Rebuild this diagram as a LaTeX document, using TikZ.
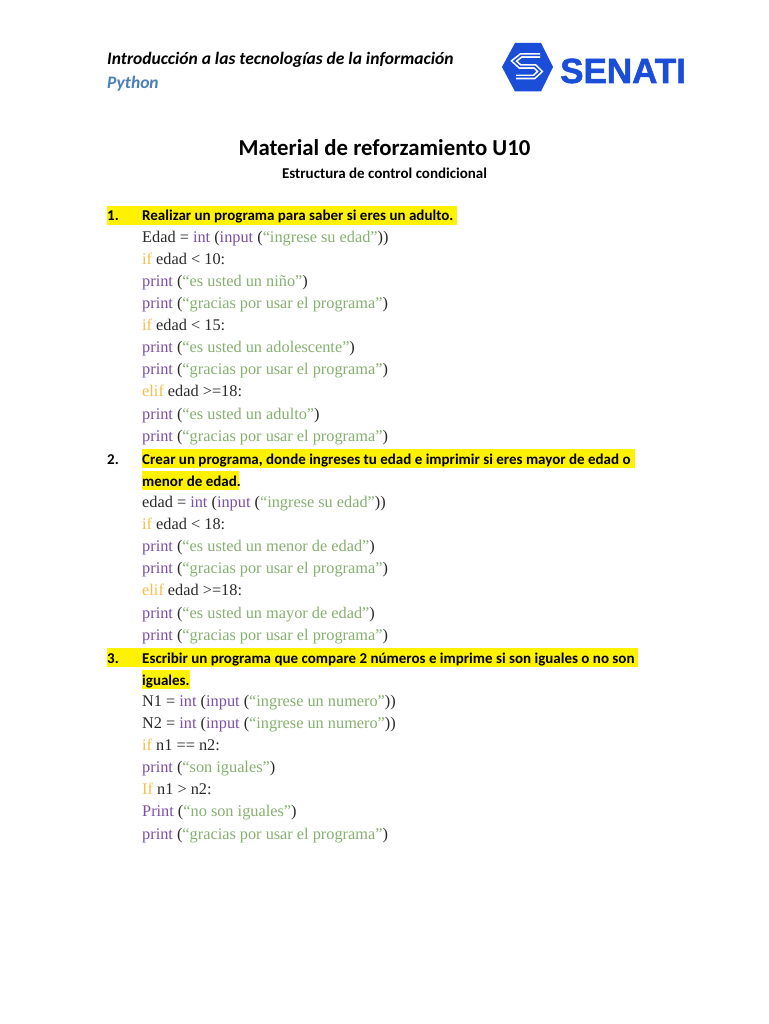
\documentclass[tikz,border=0pt]{standalone}
\usepackage{fontspec}
\setmainfont{Carlito}
\newfontfamily\codefont{Liberation Serif}
\newfontfamily\logofont[FakeBold=1.5]{Liberation Sans Bold}
\definecolor{kwpurple}{HTML}{7B4FA6}
\definecolor{strgreen}{HTML}{86B070}
\definecolor{kworange}{HTML}{F5BE4B}
\definecolor{logoblue}{HTML}{1A4ED8}
\definecolor{pyblue}{HTML}{4A7EBB}
\definecolor{codeink}{HTML}{2A2A2A}
\newcommand{\kw}[1]{\textcolor{kwpurple}{#1}}
\newcommand{\str}[1]{\textcolor{strgreen}{#1}}
\newcommand{\cond}[1]{\textcolor{kworange}{#1}}
\newcommand{\pr}[1]{\kw{print} (\str{“#1”})}
\tikzset{
  code/.style={anchor=base west, inner sep=0pt, text=codeink, font=\codefont\fontsize{16.3}{16.3}\selectfont},
  task/.style={anchor=base west, inner sep=0pt, font=\bfseries\fontsize{15}{15}\selectfont},
  num/.style={anchor=base west, inner sep=0pt, font=\bfseries\fontsize{15}{15}\selectfont},
  band/.style={fill=yellow, draw=none}
}
\begin{document}
\begin{tikzpicture}[x=1pt,y=-1pt]
\useasboundingbox (0,0) rectangle (768,1024);
\fill[white] (0,0) rectangle (768,1024);
% header
\node[anchor=base west, inner sep=0pt, font=\bfseries\itshape\fontsize{17.5}{17.5}\selectfont] (course) at (107,65) {Introducción a las tecnologías de la información};
\node[anchor=base west, inner sep=0pt, text=pyblue, font=\bfseries\itshape\fontsize{17.5}{17.5}\selectfont] (python) at (107,89) {Python};
% logo
\fill[logoblue] (502,67) -- (515,43) -- (541,43) -- (553,67) -- (541,91.5) -- (515,91.5) -- cycle;
\draw[white, line width=4.8pt] (540,55.5) -- (521,55.5) -- (514,61) -- (520,66.5) -- (535,66.5) -- (540,71.5) -- (534,77) -- (516,77);
\draw[logoblue, line width=1.5pt] (540,55.5) -- (521,55.5) -- (514,61) -- (520,66.5) -- (535,66.5) -- (540,71.5) -- (534,77) -- (516,77);
\node[anchor=base west, inner sep=0pt, text=logoblue, font=\logofont\fontsize{35}{35}\selectfont] (senati) at (560,83) {SENATI};
% title
\node[anchor=base, inner sep=0pt, font=\bfseries\fontsize{22.8}{22.8}\selectfont] (title) at (384.5,156) {Material de reforzamiento U10};
\node[anchor=base, inner sep=0pt, font=\bfseries\fontsize{15}{15}\selectfont] (subtitle) at (384.5,179) {Estructura de control condicional};
% yellow bands
\fill[band] (107,206) rectangle (457,225);
\fill[band] (142,449) rectangle (635,468);
\fill[band] (142,471) rectangle (239,490);
\fill[band] (107,648) rectangle (638,667);
\fill[band] (142,670) rectangle (190,689);
% task 1
\node[num] (n1) at (107,221) {1.};
\node[task] (t1) at (142,221) {Realizar un programa para saber si eres un adulto.};
\node[code] (a1) at (142,242) {Edad = \kw{int} (\kw{input} (\str{“ingrese su edad”}))};
\node[code] (a2) at (142,264) {\cond{if} edad < 10:};
\node[code] (a3) at (142,286) {\pr{es usted un niño}};
\node[code] (a4) at (142,308) {\pr{gracias por usar el programa}};
\node[code] (a5) at (142,330) {\cond{if} edad < 15:};
\node[code] (a6) at (142,352) {\pr{es usted un adolescente}};
\node[code] (a7) at (142,374) {\pr{gracias por usar el programa}};
\node[code] (a8) at (142,396) {\cond{elif} edad >=18:};
\node[code] (a9) at (142,419) {\pr{es usted un adulto}};
\node[code] (a10) at (142,441) {\pr{gracias por usar el programa}};
% task 2
\node[num] (n2) at (107,464) {2.};
\node[task] (t2) at (142,464) {Crear un programa, donde ingreses tu edad e imprimir si eres mayor de edad o};
\node[task] (t2b) at (142,486) {menor de edad.};
\node[code] (b1) at (142,507) {edad = \kw{int} (\kw{input} (\str{“ingrese su edad”}))};
\node[code] (b2) at (142,529) {\cond{if} edad < 18:};
\node[code] (b3) at (142,551) {\pr{es usted un menor de edad}};
\node[code] (b4) at (142,573) {\pr{gracias por usar el programa}};
\node[code] (b5) at (142,595) {\cond{elif} edad >=18:};
\node[code] (b6) at (142,618) {\pr{es usted un mayor de edad}};
\node[code] (b7) at (142,640) {\pr{gracias por usar el programa}};
% task 3
\node[num] (n3) at (107,663) {3.};
\node[task] (t3) at (142,663) {Escribir un programa que compare 2 números e imprime si son iguales o no son};
\node[task] (t3b) at (142,685) {iguales.};
\node[code] (c1) at (142,706) {N1 = \kw{int} (\kw{input} (\str{“ingrese un numero”}))};
\node[code] (c2) at (142,728) {N2 = \kw{int} (\kw{input} (\str{“ingrese un numero”}))};
\node[code] (c3) at (142,750) {\cond{if} n1 == n2:};
\node[code] (c4) at (142,772) {\pr{son iguales}};
\node[code] (c5) at (142,794) {\cond{If} n1 > n2:};
\node[code] (c6) at (142,816) {\kw{Print} (\str{“no son iguales”})};
\node[code] (c7) at (142,839) {\pr{gracias por usar el programa}};
\end{tikzpicture}
\end{document}
